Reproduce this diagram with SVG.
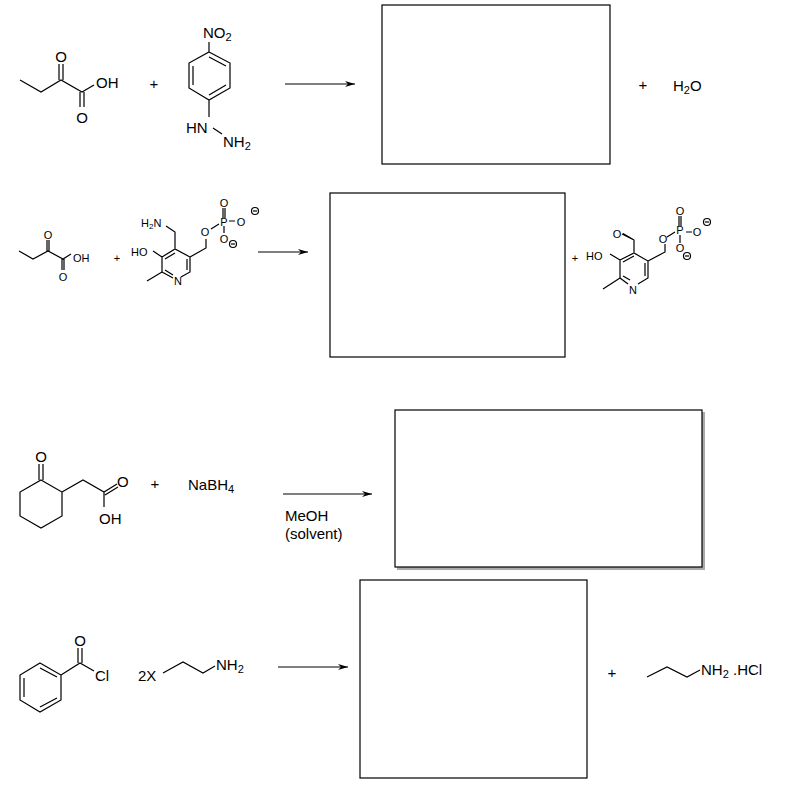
<svg xmlns="http://www.w3.org/2000/svg" width="808" height="804" viewBox="0 0 808 804">
<defs>
<style>
.b{stroke:#000;stroke-width:1.2;fill:none}
.t{font-family:"Liberation Sans",Arial,sans-serif;font-size:15px;fill:#000}
.s{font-family:"Liberation Sans",Arial,sans-serif;font-size:11px;fill:#000}
.box{fill:#fff;stroke:#000;stroke-width:1.2}
</style>
<marker id="ah" markerWidth="10" markerHeight="6" refX="10" refY="3" orient="auto" markerUnits="userSpaceOnUse"><path d="M0,0 L10,3 L0,6 L3,3 z" fill="#000"/></marker>
</defs>
<rect width="808" height="804" fill="#fff"/>

<g id="r1-ketoacid">
<path class="b" d="M20,80 L41,92 L61,80 L82,92 L94,85 M59,80 V64 M63,80 V64 M80,92 V107 M84,92 V107"/>
<text class="t" x="61" y="62" text-anchor="middle">O</text>
<text class="t" x="96" y="88">OH</text>
<text class="t" x="82" y="123" text-anchor="middle">O</text>
</g>
<text class="t" x="154" y="89" text-anchor="middle">+</text>
<g id="r1-hydrazine">
<path class="b" d="M209,52 L230,63 L230,88 L209,100 L189,88 L189,63 Z M209,57 L226,66 M226,85 L209,95 M193,85 V66 M209,52 V42 M209,100 V117 M213,128 L222,134"/>
<text class="t" x="203" y="38">NO<tspan font-size="11" dy="3">2</tspan></text>
<text class="t" x="186" y="133">HN</text>
<text class="t" x="223" y="147">NH<tspan font-size="11" dy="3">2</tspan></text>
</g>
<g id="connectors">
<line class="b" x1="285" y1="84" x2="355" y2="84" marker-end="url(#ah)"/>
<line class="b" x1="258" y1="252" x2="308" y2="252" marker-end="url(#ah)"/>
<line class="b" x1="283" y1="494" x2="372" y2="494" marker-end="url(#ah)"/>
<line class="b" x1="278" y1="667" x2="348" y2="667" marker-end="url(#ah)"/>
</g>
<g id="box1"><rect class="box" x="382" y="5" width="228" height="159"/></g>
<text class="t" x="643" y="90" text-anchor="middle">+</text>
<g id="water"><text class="t" x="673" y="91">H<tspan font-size="11" dy="3">2</tspan><tspan dy="-3">O</tspan></text></g>

<g id="r2-ketoacid">
<path class="b" d="M19,251 L33,259 L48,251 L63,259 L71,254 M47,251 V240 M49,251 V240 M62,259 V270 M64,259 V270" stroke-width="0.9"/>
<text class="s" x="48" y="239" text-anchor="middle">O</text>
<text class="s" x="73" y="262">OH</text>
<text class="s" x="63" y="281" text-anchor="middle">O</text>
</g>
<text class="s" x="117" y="262" text-anchor="middle">+</text>
<g id="r2-pmp">
<path class="b" stroke-width="0.9" d="M162,257 L175,249 L190,257 L190,272 L181,277 M173,278 L162,272 Z M162,257 L162,272 M165,259 L175,253 M187,259 V270 M165,270 L173,275 M162,272 L147,281 M162,257 L153,251 M175,249 V232 L166,226 M190,257 L206,248 V239 M211,229 L219,224 M229,221 L235,221 M223,218 V208 M225,218 V208 M224,226 V233"/>
<text class="s" x="141" y="227">H<tspan font-size="8" dy="2">2</tspan><tspan dy="-2">N</tspan></text>
<text class="s" x="131" y="256">HO</text>
<text class="s" x="178" y="285" text-anchor="middle">N</text>
<text class="s" x="205" y="236" text-anchor="middle">O</text>
<text class="s" x="224" y="226" text-anchor="middle">P</text>
<text class="s" x="224" y="207" text-anchor="middle">O</text>
<text class="s" x="241" y="226" text-anchor="middle">O</text>
<text class="s" x="224" y="243" text-anchor="middle">O</text>
<circle cx="255" cy="211" r="3.5" class="b" stroke-width="0.7"/><line x1="253" y1="211" x2="257" y2="211" class="b" stroke-width="0.7"/>
<circle cx="233" cy="244" r="3.5" class="b" stroke-width="0.7"/><line x1="231" y1="244" x2="235" y2="244" class="b" stroke-width="0.7"/>
</g>
<g id="box2"><rect class="box" x="330" y="193" width="235" height="164"/></g>
<text class="s" x="575" y="262" text-anchor="middle">+</text>
<g id="r2-plp">
<path class="b" stroke-width="0.9" d="M620,260 L634,253 L648,261 L648,278 L638,284 M628,284 L620,278 Z M620,260 L620,278 M623,262 L634,256 M645,263 V276 M623,276 L630,280 M620,278 L603,289 M620,260 L610,254 M634,253 V240 L622,234 M634,240 L623,233.5 M648,261 L665,252 V244 M667,237 L675,232 M686,232 L692,232 M679,226 V216 M681,226 V216 M680,235 V243"/>
<text class="s" x="586" y="260">HO</text>
<text class="s" x="633" y="294" text-anchor="middle">N</text>
<text class="s" x="617" y="238" text-anchor="middle">O</text>
<text class="s" x="663" y="243" text-anchor="middle">O</text>
<text class="s" x="680" y="234" text-anchor="middle">P</text>
<text class="s" x="680" y="215" text-anchor="middle">O</text>
<text class="s" x="697" y="236" text-anchor="middle">O</text>
<text class="s" x="680" y="252" text-anchor="middle">O</text>
<circle cx="707" cy="222" r="3.5" class="b" stroke-width="0.7"/><line x1="705" y1="222" x2="709" y2="222" class="b" stroke-width="0.7"/>
<circle cx="687" cy="256" r="3.5" class="b" stroke-width="0.7"/><line x1="685" y1="256" x2="689" y2="256" class="b" stroke-width="0.7"/>
</g>

<g id="r3-cyclohexanone">
<path class="b" d="M41,480 L62,492 L62,516 L41,528 L20,516 L20,492 Z M39,480 V464 M43,480 V464 M62,492 L83,480 L104,492 L117,484 M105,495 L118,487 M104,492 V507"/>
<text class="t" x="41" y="462" text-anchor="middle">O</text>
<text class="t" x="117" y="487">O</text>
<text class="t" x="99" y="524">OH</text>
</g>
<text class="t" x="155" y="489" text-anchor="middle">+</text>
<g id="nabh4"><text class="t" x="188" y="490">NaBH<tspan font-size="11" dy="3">4</tspan></text></g>
<text class="t" x="285" y="521">MeOH</text>
<text class="t" x="285" y="539">(solvent)</text>
<g id="box3">
<rect x="397" y="412" width="308" height="158" fill="#aaa"/>
<rect class="box" x="395" y="410" width="307" height="157"/>
</g>

<g id="r4-benzoylcl">
<path class="b" d="M40,663 L61,675 L61,700 L40,712 L20,700 L20,675 Z M40,668 L57,677 M57,698 L40,707 M24,697 V678 M61,675 L80,663 L94,671 M78,663 V648 M82,663 V648"/>
<text class="t" x="80" y="646" text-anchor="middle">O</text>
<text class="t" x="95" y="681">Cl</text>
</g>
<g id="propylamine-1">
<text class="t" x="138" y="681">2X</text>
<path class="b" d="M163,673 L183,662 L203,673 L215,666"/>
<text class="t" x="216" y="670">NH<tspan font-size="11" dy="3">2</tspan></text>
</g>
<g id="box4"><rect class="box" x="360" y="580" width="227" height="198"/></g>
<text class="t" x="612" y="678" text-anchor="middle">+</text>
<g id="propylamine-hcl">
<path class="b" d="M647,677 L667,667 L687,677 L700,670"/>
<text class="t" x="701" y="675">NH<tspan font-size="11" dy="3">2</tspan><tspan dy="-3"> .HCl</tspan></text>
</g>
</svg>
